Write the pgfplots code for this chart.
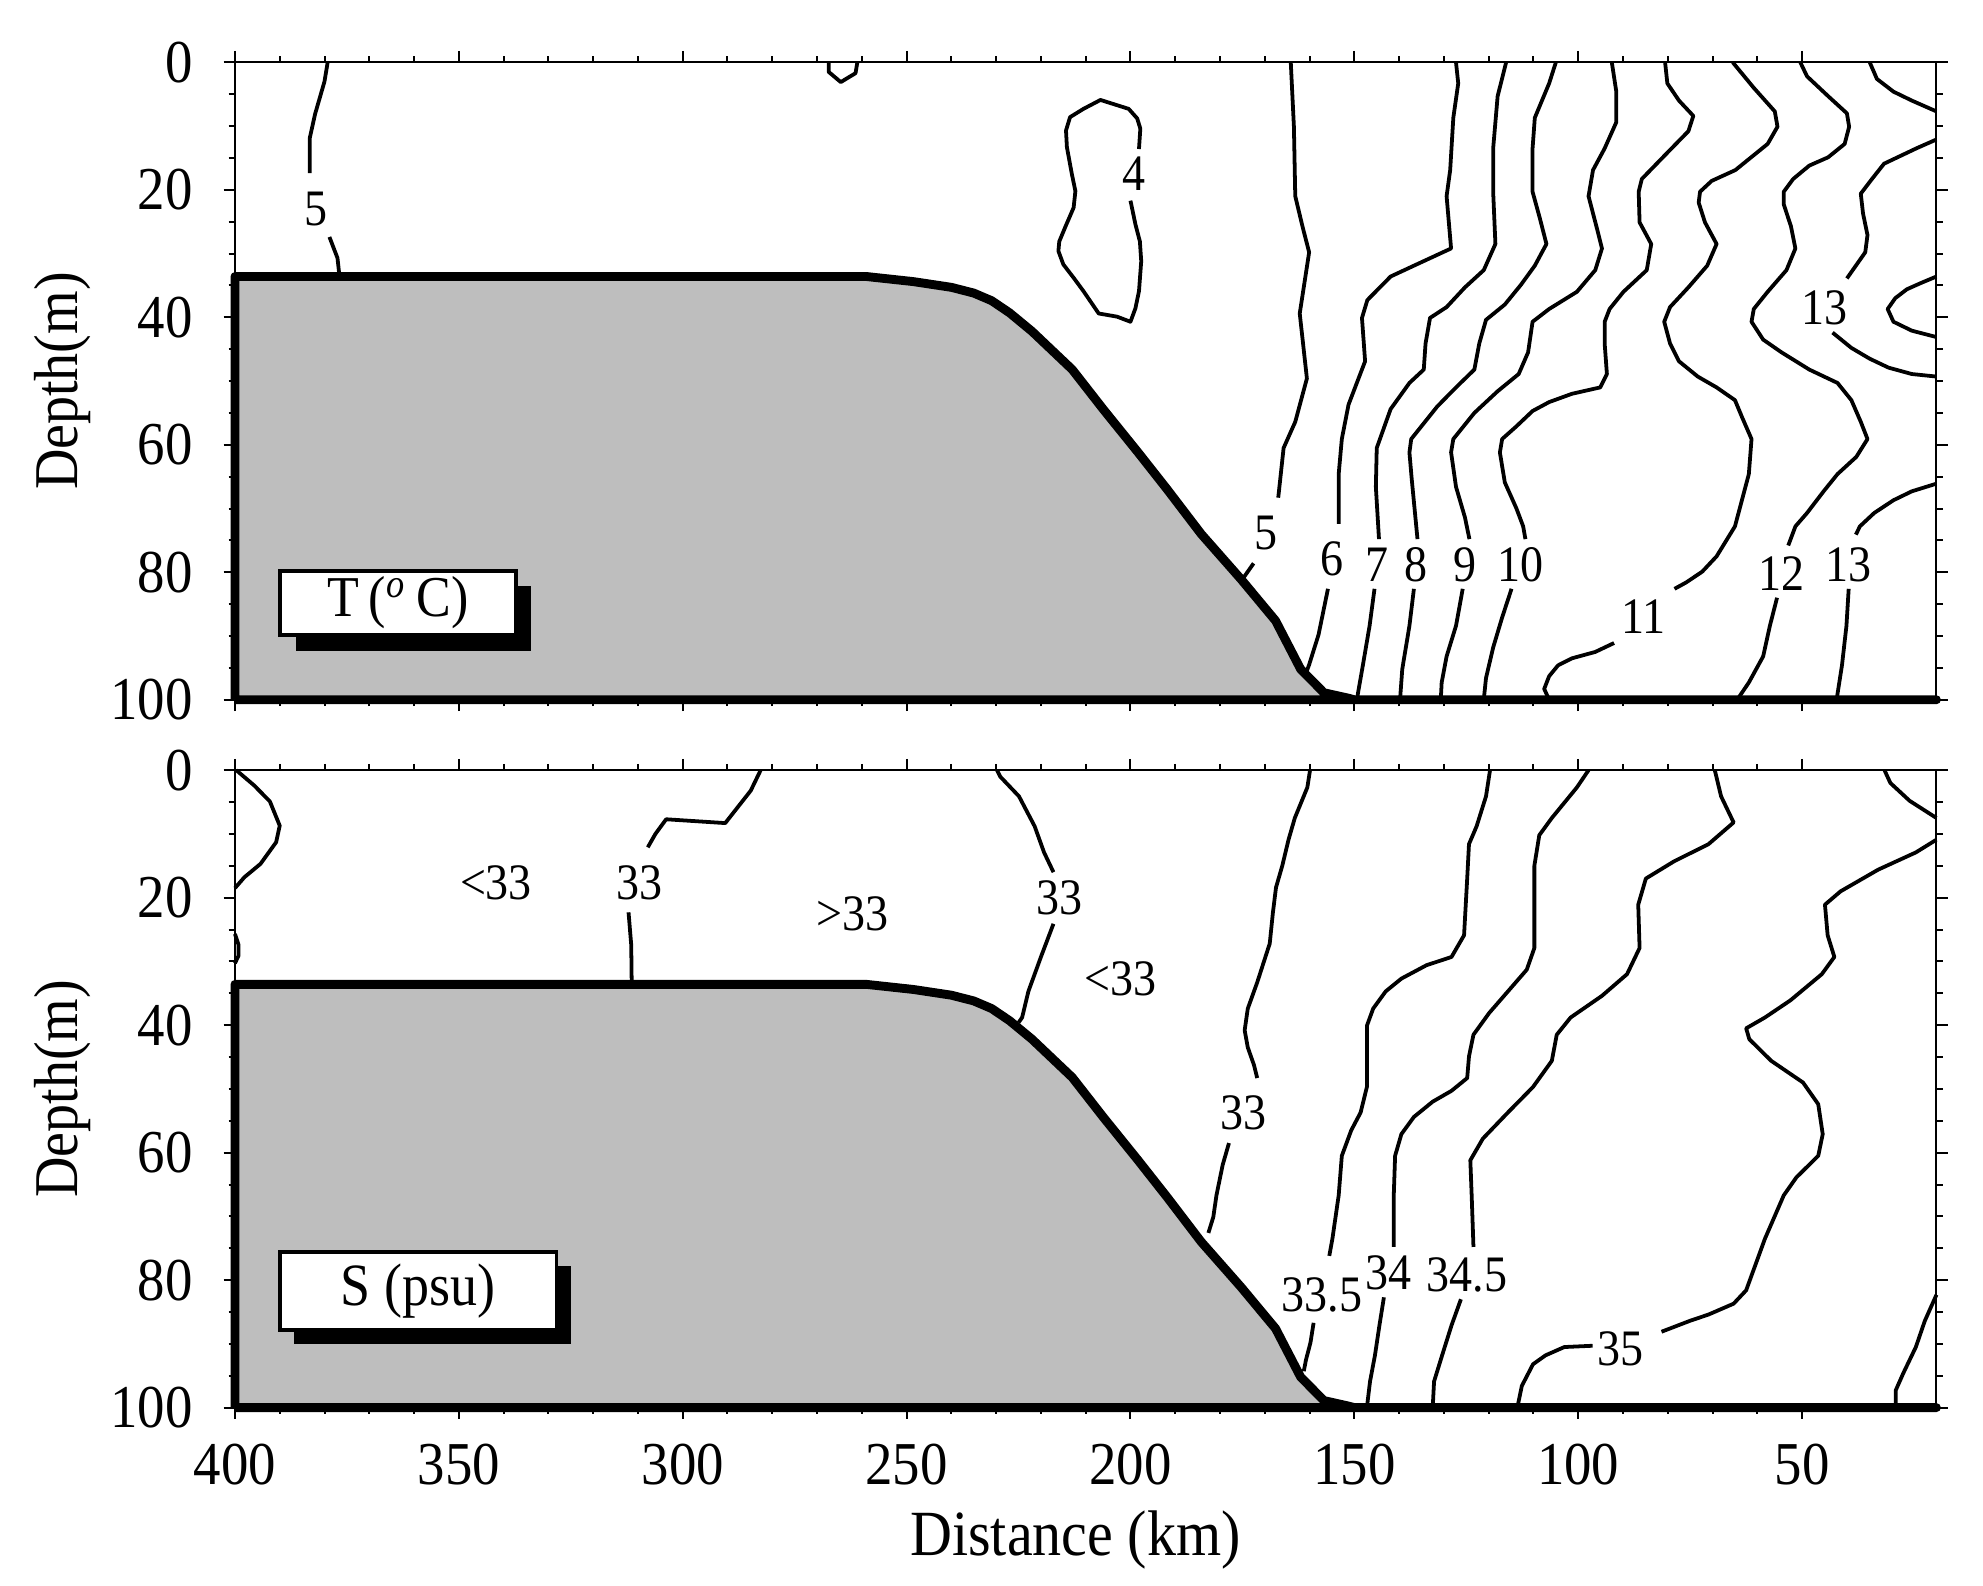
\documentclass[border=0pt]{standalone}
\usepackage{fontspec}
\setmainfont{Liberation Serif}[FakeStretch=0.9]
\usepackage{pgfplots}
\pgfplotsset{compat=1.18}

\definecolor{shelf}{RGB}{190,190,190}

\pgfplotsset{
  sec/.style={
    scale only axis, width=13.454cm, height=5.04cm,
    anchor=north west,
    x dir=reverse, y dir=reverse,
    xmin=20, xmax=400, ymin=0, ymax=100,
    xtick={50,100,...,400}, minor x tick num=4,
    ytick={0,20,...,100}, minor y tick num=3,
    tick align=outside, tick pos=both,
    major tick length=0.09cm, minor tick length=0.05cm,
    axis line style={line width=0.45pt},
    every tick/.style={line width=0.45pt, black},
    /pgf/number format/assume math mode=true,
    tick label style={font=\fontsize{13.7}{14}\selectfont},
    yticklabel style={xshift=-0.12cm},
    xticklabel style={yshift=-0.07cm},
    ylabel={Depth(m)},
    ylabel style={at={(axis description cs:-0.1011,0.5)}, anchor=center,
      font=\fontsize{14}{15}\selectfont},
    xlabel style={at={(axis description cs:0.494,-0.208)}, anchor=center,
      font=\fontsize{14.5}{15}\selectfont},
    clip=false,
  },
  cl/.style={black, line width=0.85pt, line join=round, mark=none},
  bath/.style={draw=black, fill=shelf, line width=2pt, line join=round, mark=none},
}
\tikzset{clab/.style={font=\fontsize{11.5}{12}\selectfont, inner sep=0pt}}

\begin{document}
\begin{tikzpicture}
\path[use as bounding box] (0,0) rectangle (15.68,-12.54);

% ---------------- temperature
\begin{axis}[sec, at={(1.858cm,-0.493cm)}, xticklabels={}]
\addplot[bath] coordinates {(400,100) (400,33.6) (259,33.6) (248.5,34.4) (240,35.3) (235,36.2) (231,37.4) (227,39.3) (222,42.2) (213,48.2) (206,54.5) (198.3,61.2) (191.8,67) (184.2,74) (175.3,81.1) (167.6,87.6) (162,95.2) (156.8,98.9) (151.7,99.7) (150,100) (20,100) (400,100)};

% 5
\addplot[cl] coordinates {(379.3,0) (380,3.0) (382.1,8.1) (383.3,11.9) (383.3,17.4)};
\addplot[cl] coordinates {(378.9,27.4) (377.1,30.7) (376.7,33.3)};
\node[clab] at (381.9,23.0) {5};
\addplot[cl] coordinates {(164.2,0) (163.5,10.1) (163.2,21.0) (161.6,25.7) (160.1,29.8) (162.2,39.4) (160.6,49.6) (163.2,56.4) (165.8,60.5) (167.0,68.3)};
\addplot[cl] coordinates {(172.5,78.6) (174.8,80.9)};
\node[clab] at (169.7,73.9) {5};
% small loop near surface
\addplot[cl] coordinates {(267.4,0) (267.4,1.5) (264.7,3.1) (261.4,1.7) (261.0,0)};
% 4
\addplot[cl] coordinates {(198.1,13.6) (197.8,10.4) (198.5,8.8) (200.4,7.3) (206.7,5.9) (210.5,7.3) (213.5,8.6) (214.4,10.7) (214.2,13.3) (213.1,17.5) (212.3,20.2) (212.7,22.8) (214.6,25.9) (215.9,28.1) (216.1,29.6) (215.0,31.7) (212.7,33.8) (210.5,35.9) (207.1,39.4) (203.0,39.9) (200.0,40.7) (198.9,38.6) (198.1,35.9) (197.6,31.2) (197.9,28.1) (198.9,25.4) (200.0,21.7)};
\node[clab] at (199.2,17.5) {4};
% 6
\addplot[cl] coordinates {(127.3,0) (126.8,3.3) (127.9,8.7) (128.6,16.9) (129.4,21.0) (128.4,29.2) (136.7,31.9) (141.9,33.6) (147.1,37.3) (148.3,40.1) (147.6,46.9) (151.3,53.7) (152.8,59.1) (153.5,64.6) (153.5,72.4)};
\addplot[cl] coordinates {(155.9,82.6) (158.0,89.8) (160.1,94.5) (160.9,96.0)};
\node[clab] at (154.9,77.9) {6};
% 7
\addplot[cl] coordinates {(116.1,0) (118.0,5.3) (119.0,13.5) (119.0,20.3) (118.5,28.5) (121.1,32.6) (125.3,35.3) (129.4,38.4) (133.1,40.1) (134.1,44.1) (134.5,48.2) (137.7,50.3) (141.9,54.4) (145.0,60.5) (145.2,66.6) (144.5,74.8)};
\addplot[cl] coordinates {(145.5,82.6) (146.6,88.4) (148.1,94.6) (149.2,99.0) (149.4,100)};
\node[clab] at (145.0,78.9) {7};
% 8
\addplot[cl] coordinates {(105.0,0) (106.5,3.3) (109.7,8.7) (110.2,13.5) (110.2,20.3) (108.6,24.4) (107.1,28.5) (109.7,31.9) (112.8,34.9) (116.4,38.0) (120.6,40.4) (122.1,44.1) (123.2,48.2) (127.3,51.0) (131.5,54.0) (137.3,59.1) (137.7,61.2) (137.2,65.3) (135.9,74.8)};
\addplot[cl] coordinates {(136.7,82.6) (137.7,88.4) (139.3,95.2) (139.8,100)};
\node[clab] at (136.2,78.9) {8};
% 9
\addplot[cl] coordinates {(92.5,0) (91.5,4.6) (91.5,9.4) (94.1,13.5) (96.7,16.9) (97.7,21.0) (95.7,26.4) (94.7,29.2) (96.2,32.6) (100.3,36.0) (106.5,38.7) (110.2,40.7) (111.2,45.5) (113.3,48.9) (118.0,51.6) (123.2,55.0) (127.9,59.1) (128.4,61.2) (127.3,66.6) (125.3,71.4) (124.3,74.8)};
\addplot[cl] coordinates {(125.8,82.6) (127.3,88.4) (129.4,93.2) (130.5,97.3) (130.7,100)};
\node[clab] at (125.3,78.9) {9};
% 10
\addplot[cl] coordinates {(80.6,0) (80.1,3.3) (77.5,6.0) (74.3,8.4) (75.4,10.8) (81.1,14.9) (85.8,18.3) (86.5,20.3) (86.3,25.1) (83.7,28.5) (84.7,32.6) (89.9,36.0) (93.0,38.7) (94.1,40.7) (94.1,44.1) (93.6,48.9) (95.1,51.0) (101.4,52.0) (106.5,53.3) (110.2,54.7) (113.8,57.1) (117.0,59.1) (117.5,61.2) (116.4,65.9) (113.8,70.0) (112.3,72.8) (111.8,74.8)};
\addplot[cl] coordinates {(114.9,82.6) (117.0,87.1) (119.0,91.8) (120.6,96.6) (121.1,100)};
\node[clab] at (112.8,78.9) {10};
% 11
\addplot[cl] coordinates {(65.5,0) (60.8,4.0) (56.1,7.7) (55.5,10.1) (57.7,12.8) (64.9,16.9) (70.2,18.6) (72.8,20.3) (73.1,22.0) (71.7,25.1) (69.1,28.5) (71.2,31.9) (75.4,35.3) (79.5,38.4) (80.8,40.7) (79.5,44.1) (77.5,46.9) (73.3,49.3) (69.1,51.0) (65.0,53.0) (63.4,55.7) (61.3,59.1) (61.9,64.6) (65.0,72.8) (69.1,77.5) (72.3,79.9) (75.9,81.6) (78.5,82.6)};
\addplot[cl] coordinates {(92.0,91.1) (96.2,92.5) (101.4,93.5) (104.5,94.6) (106.5,96.3) (107.6,98.3) (106.5,100)};
\node[clab] at (85.5,87.0) {11};
% 12
\addplot[cl] coordinates {(50.4,0) (48.9,2.2) (44.2,5.3) (40.0,8.0) (39.5,10.1) (40.5,12.8) (44.2,14.9) (48.4,16.2) (52.0,18.3) (54.1,20.3) (54.1,22.3) (52.5,25.7) (51.5,29.2) (53.5,32.6) (57.7,36.0) (60.8,38.7) (61.3,40.7) (58.7,43.5) (54.6,45.5) (48.4,48.2) (42.1,50.3) (39.0,53.0) (36.9,56.4) (35.4,59.1) (37.9,61.9) (42.1,64.6) (45.2,67.3) (48.9,70.7) (51.5,72.8) (53.1,75.8)};
\addplot[cl] coordinates {(55.6,84.0) (57.2,88.4) (58.7,93.2) (61.9,97.3) (64.5,100)};
\node[clab] at (54.6,80.2) {12};
% 13
\addplot[cl] coordinates {(34.9,0) (33.3,2.6) (29.6,4.6) (25.5,6.0) (20,7.7)};
\addplot[cl] coordinates {(20,12.1) (24.5,13.5) (27.5,14.5) (31.7,15.9) (34.4,18.3) (36.9,20.6) (36.4,23.7) (35.4,27.1) (35.9,29.8) (38.0,31.9) (40.0,33.9)};
\addplot[cl] coordinates {(43.2,42.4) (39.0,44.8) (34.9,46.5) (30.7,47.9) (25.5,48.9) (20,49.3)};
\node[clab] at (45.0,38.5) {13};
\addplot[cl] coordinates {(20,33.6) (23.4,34.6) (26.6,35.6) (29.2,37.0) (30.9,38.7) (29.6,40.7) (25.5,42.1) (20,43.1)};
\addplot[cl] coordinates {(20,66.1) (25.5,67.3) (29.6,68.7) (33.9,70.7) (37.1,72.8) (38.0,74.1)};
\addplot[cl] coordinates {(39.6,82.6) (40.1,88.4) (41.1,94.6) (42.3,100)};
\node[clab] at (39.6,78.8) {13};

% label box
\fill[black] (386.4,82.2) rectangle (333.9,92.4);
\draw[fill=white, line width=0.85pt] (390,79.8) rectangle (337.3,89.8);
\node[font=\fontsize{13}{14}\selectfont, inner sep=0pt] at (363.6,84.8) {T\,(\textsuperscript{\itshape o}\,C)};
\end{axis}

% ---------------- salinity
\begin{axis}[sec, at={(1.858cm,-6.09cm)}, xlabel={Distance (km)}]
\addplot[bath] coordinates {(400,100) (400,33.6) (259,33.6) (248.5,34.4) (240,35.3) (235,36.2) (231,37.4) (227,39.3) (222,42.2) (213,48.2) (206,54.5) (198.3,61.2) (191.8,67) (184.2,74) (175.3,81.1) (167.6,87.6) (162,95.2) (156.8,98.9) (151.7,99.7) (150,100) (20,100) (400,100)};

% left edge pieces
\addplot[cl] coordinates {(399.7,0) (395.7,2.4) (392.2,4.9) (390.0,8.7) (390.8,11.3) (394.3,14.7) (397.9,16.8) (400,18.5)};
\addplot[cl] coordinates {(400,25.7) (399.2,27.4) (399.2,29.1) (400,30.3)};
% 33 near 300 km
\addplot[cl] coordinates {(282.6,0) (284.8,3.2) (290.5,8.3) (303.7,7.7) (306.1,10.0) (307.8,12.1)};
\addplot[cl] coordinates {(312.1,22.3) (311.5,27.4) (311.4,33.0)};
\node[clab] at (309.7,17.6) {33};
\node[clab] at (341.7,17.6) {<33};
\node[clab] at (262,22.6) {>33};
% 33 near 220 km
\addplot[cl] coordinates {(229.8,0) (229.1,1.0) (224.9,4.1) (221.4,8.8) (219.3,12.9) (217.2,16.0)};
\addplot[cl] coordinates {(217.2,24.1) (220.0,29.3) (222.8,34.7) (224.2,38.8) (225.0,39.6)};
\node[clab] at (215.8,20.0) {33};
\node[clab] at (202.2,32.7) {<33};
% 33 near 170 km
\addplot[cl] coordinates {(159.9,0) (160.5,2.7) (163.3,7.5) (164.7,10.9) (166.1,15.0) (167.5,18.4) (168.2,22.4) (168.9,27.2) (171.7,33.3) (173.8,37.4) (174.5,40.8) (173.8,43.5) (172.4,46.3) (171.7,48.3)};
\addplot[cl] coordinates {(178.0,58.5) (179.4,61.9) (180.8,66.7) (181.5,70.1) (182.6,72.6)};
\node[clab] at (174.8,53.7) {33};
% 33.5
\addplot[cl] coordinates {(119.7,0) (120.6,4.1) (122.7,8.8) (124.4,11.6) (124.8,17.0) (125.5,25.9) (128.3,29.3) (133.9,30.6) (139.5,32.7) (143.0,34.7) (145.8,37.4) (147.2,40.1) (147.2,49.7) (148.6,53.7) (150.7,56.5) (152.8,60.5) (153.5,66.7) (154.9,73.5) (155.6,76.2)};
\addplot[cl] coordinates {(159.1,86.7) (159.8,89.8) (160.8,92.5) (161.3,94.3)};
\node[clab] at (157.2,82.4) {33.5};
% 34
\addplot[cl] coordinates {(97.7,0) (100.3,2.7) (105.9,7.5) (108.7,10.2) (109.8,15.0) (109.8,27.9) (111.5,31.3) (115.7,34.7) (119.9,38.1) (123.4,41.5) (124.4,44.9) (124.8,48.3) (128.3,50.3) (132.5,52.0) (136.7,54.4) (139.5,57.1) (140.9,60.5) (141.2,66.7) (141.2,74.8)};
\addplot[cl] coordinates {(143.4,82.7) (144.4,87.1) (145.4,91.8) (146.5,95.9) (147.2,100)};
\node[clab] at (142.4,78.8) {34};
% 34.5
\addplot[cl] coordinates {(69.5,0) (68.1,4.1) (65.3,8.2) (70.9,11.6) (78.6,14.3) (84.9,17.0) (86.6,21.1) (86.3,27.9) (89.1,32.0) (94.7,35.4) (101.7,38.8) (104.8,41.5) (105.9,45.6) (110.1,49.7) (115.7,53.7) (121.3,57.8) (124.1,61.2) (123.8,66.7) (123.4,74.8)};
\addplot[cl] coordinates {(126.2,83.0) (128.3,87.1) (130.4,91.8) (132.2,95.9) (132.5,100)};
\node[clab] at (124.8,79.2) {34.5};
% 35
\addplot[cl] coordinates {(31.6,0) (30.3,2.0) (26.0,4.8) (20,7.5)};
\addplot[cl] coordinates {(20,10.9) (24.6,12.9) (33.0,15.6) (41.4,19.0) (44.9,21.1) (44.3,25.9) (42.8,29.3) (45.6,32.0) (52.6,36.1) (58.3,38.8) (62.5,40.5) (61.8,42.2) (56.9,45.6) (49.8,49.0) (46.4,52.4) (45.4,57.1) (46.4,60.5) (51.3,63.9) (54.1,66.7) (58.3,73.5) (62.5,81.6) (65.3,83.7) (70.9,85.4) (75.1,86.4) (81.4,88.1)};
\addplot[cl] coordinates {(96.8,90.3) (103.1,90.5) (107.3,91.8) (110.1,93.2) (112.6,96.6) (113.6,100)};
\node[clab] at (90.5,90.8) {35};
\addplot[cl] coordinates {(20,82.3) (22.6,86.4) (24.6,90.5) (27.4,94.6) (29.1,97.3) (29.1,100)};

% label box
\fill[black] (386.8,77.8) rectangle (324.9,90.1);
\draw[fill=white, line width=0.85pt] (390,75.6) rectangle (328.2,87.8);
\node[font=\fontsize{13.5}{14}\selectfont, inner sep=0pt] at (359.1,81.7) {S (psu)};
\end{axis}
\end{tikzpicture}
\end{document}
